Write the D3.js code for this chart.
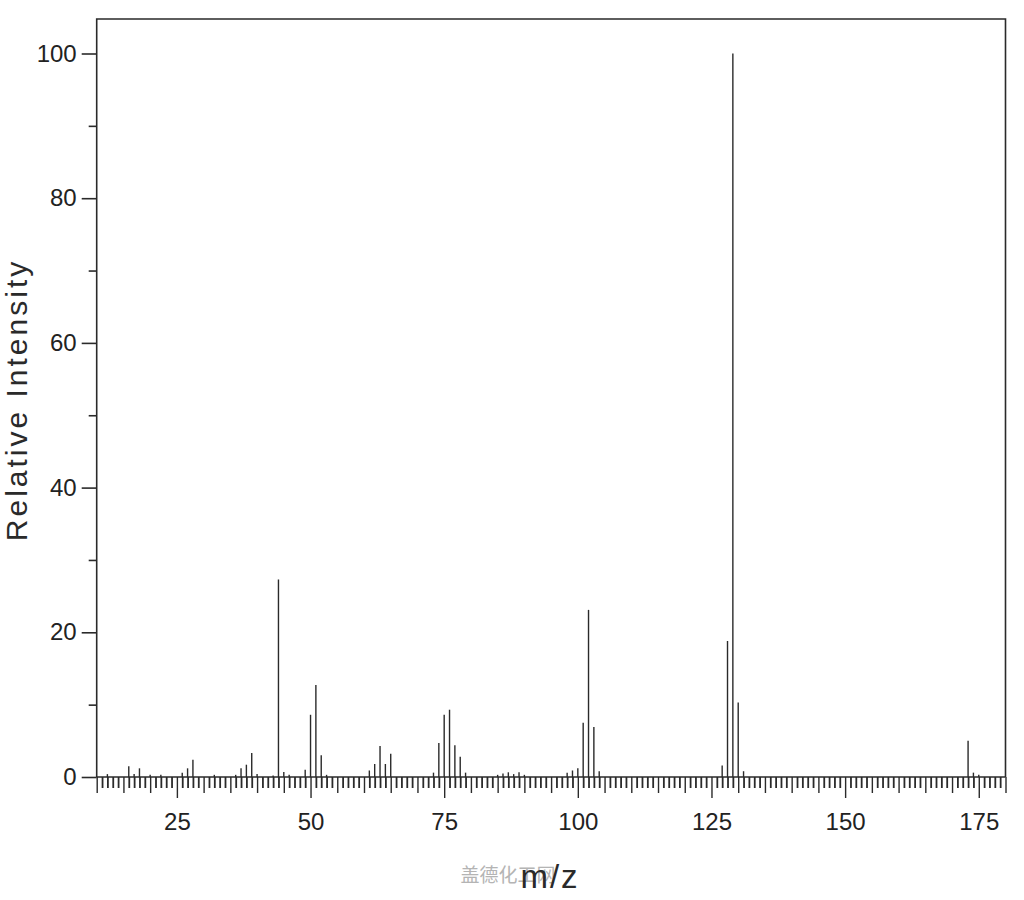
<!DOCTYPE html>
<html>
<head>
<meta charset="utf-8">
<script src="https://cdn.jsdelivr.net/npm/d3@7"></script>
<style>
  html, body { margin: 0; padding: 0; background: #fff; }
  svg { display: block; }
  .tick text { font-family: "Liberation Sans", Arial, sans-serif; fill: #222; }
</style>
</head>
<body>
<svg id="chart" width="1024" height="900"></svg>
<script>
// ---- data ----
const mz = [12,16,17,18,20,22,26,27,28,32,36,37,38,39,40,43,44,45,46,49,50,51,52,53,
            61,62,63,64,65,73,74,75,76,77,78,79,85,86,87,88,89,90,
            98,99,100,101,102,103,104,127,128,129,130,131,173,174,175];
const intensity = [0.4,1.5,0.4,1.2,0.3,0.3,0.6,1.2,2.4,0.3,0.3,1.2,1.7,3.3,0.4,0.2,27.3,0.7,0.3,1.0,8.6,12.7,3.0,0.3,
            0.9,1.8,4.3,1.8,3.2,0.6,4.7,8.6,9.3,4.4,2.8,0.6,0.3,0.5,0.65,0.4,0.65,0.3,
            0.6,0.9,1.2,7.5,23.1,6.9,0.8,1.6,18.8,100,10.3,0.8,5.0,0.6,0.3];
const xTickLabels = [25,50,75,100,125,150,175];
const yTickLabels = [0,20,40,60,80,100];
const yMinorTicks = [10,30,50,70,90];
const xTitle = "m/z";
const yTitle = "Relative Intensity";
const watermark = "盖德化工网";

// ---- layout ----
const svg = d3.select("#chart");
const x = d3.scaleLinear().domain([10,180]).range([96.7,1005.5]);
const y = d3.scaleLinear().domain([0,100]).range([777,53.5]);
const yTop = 19;
const ink = "#2a2a2a";

// frame
svg.append("path")
  .attr("d", `M${x(10)},${y(0)} V${yTop} H${x(180)} V${y(0)}`)
  .attr("fill","none").attr("stroke",ink).attr("stroke-width",1.6);

// peaks
svg.append("g").selectAll("line").data(mz).join("line")
  .attr("x1", d => x(d)).attr("x2", d => x(d))
  .attr("y1", y(0)).attr("y2", (d,i) => y(intensity[i]))
  .attr("stroke", ink).attr("stroke-width", 1.4);

// x axes (minor, mid, major)
const allInts = d3.range(10,181);
function xAxisLayer(vals, size, width, labels) {
  const g = svg.append("g").attr("transform",`translate(0,${y(0)})`)
    .call(d3.axisBottom(x).tickValues(vals).tickSize(size).tickSizeOuter(0)
      .tickFormat(labels ? d3.format("d") : ""));
  g.select(".domain").remove();
  g.selectAll(".tick line").attr("stroke", ink).attr("stroke-width", width);
  return g;
}
xAxisLayer(allInts.filter(d => d % 5 !== 0), 11, 1.8, false);
xAxisLayer(allInts.filter(d => d % 5 === 0 && d % 25 !== 0), 16, 1.4, false);
const gx = xAxisLayer(xTickLabels, 21, 1.4, true);
gx.selectAll(".tick text").attr("y", 36).attr("font-size", 24).attr("dy", "0.71em");

// baseline
svg.append("line").attr("x1", x(10)).attr("x2", x(180)).attr("y1", y(0)).attr("y2", y(0))
  .attr("stroke", ink).attr("stroke-width", 1.6);

// y axes
const gyMinor = svg.append("g").attr("transform",`translate(${x(10)},0)`)
  .call(d3.axisLeft(y).tickValues(yMinorTicks).tickSize(8).tickFormat(""));
gyMinor.select(".domain").remove();
gyMinor.selectAll(".tick line").attr("stroke", ink).attr("stroke-width", 1.6);

const gy = svg.append("g").attr("transform",`translate(${x(10)},0)`)
  .call(d3.axisLeft(y).tickValues(yTickLabels).tickSize(15).tickPadding(5).tickFormat(d3.format("d")));
gy.select(".domain").remove();
gy.selectAll(".tick line").attr("stroke", ink).attr("stroke-width", 1.6);
gy.selectAll(".tick text").attr("font-size", 24);

// titles
svg.append("text")
  .attr("transform", "translate(27,400) rotate(-90)")
  .attr("text-anchor","middle")
  .attr("font-family","'Liberation Sans', Arial, sans-serif")
  .attr("font-size", 30).attr("letter-spacing", 3).attr("fill", ink)
  .text(yTitle);

svg.append("text")
  .attr("x", 508).attr("y", 882)
  .attr("text-anchor","middle")
  .attr("font-family","'Noto Sans CJK SC', sans-serif")
  .attr("font-size", 19).attr("fill", "#b4b4b4")
  .text(watermark);

svg.append("text")
  .attr("x", 550).attr("y", 888)
  .attr("text-anchor","middle")
  .attr("font-family","'Liberation Sans', Arial, sans-serif")
  .attr("font-size", 33).attr("letter-spacing", 2).attr("fill", ink)
  .text(xTitle);
</script>
</body>
</html>
